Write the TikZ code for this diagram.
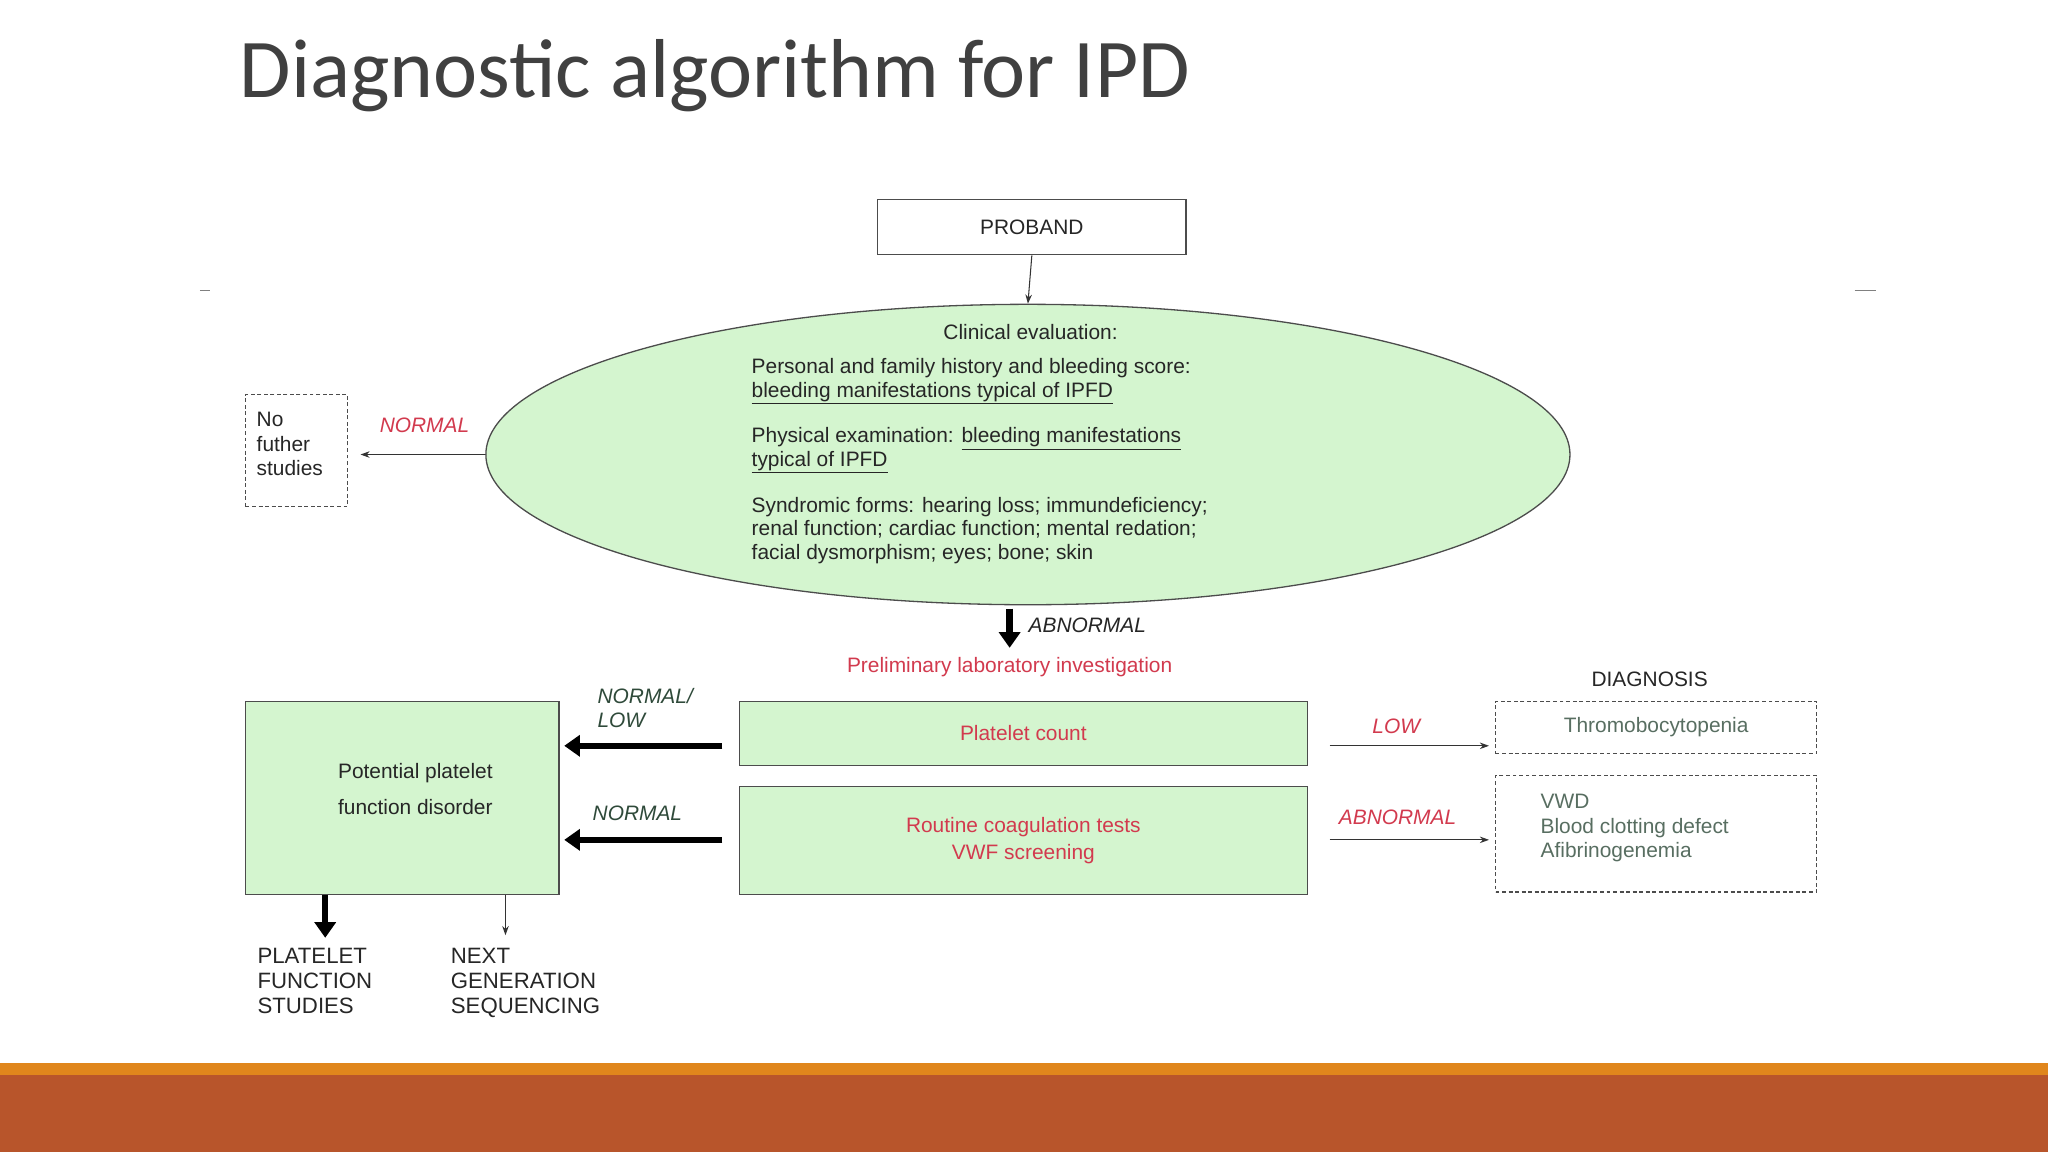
\documentclass[tikz,border=0pt]{standalone}
\usepackage{fontspec}
\setmainfont{Liberation Sans}
\newfontfamily\titlefont{Carlito}
\usetikzlibrary{arrows.meta,calc,shapes.geometric}
\definecolor{lgreen}{HTML}{D4F5CF}
\definecolor{lred}{HTML}{D23A4E}
\definecolor{dgr}{HTML}{2F4A3A}
\definecolor{orangebar}{HTML}{E0861C}
\definecolor{rustbar}{HTML}{B8552B}
\definecolor{titlegray}{HTML}{404040}
\tikzset{
  every node/.style={font=\fontsize{16}{19}\selectfont, text=black!85},
  gbox/.style={draw=black!70, line width=1pt, fill=lgreen},
  dbox/.style={draw=black!70, line width=1pt, dash pattern=on 3pt off 2pt},
  thin arrow/.style={-{Stealth[length=7pt,width=5pt]}, line width=0.8pt, draw=black!80},
  thick arrow/.style={-{Triangle[length=12pt,width=16pt]}, line width=5pt},
  lab/.style={font=\fontsize{16}{19}\selectfont\itshape},
}
\begin{document}
\begin{tikzpicture}[x=1pt,y=-1pt]
\useasboundingbox (0,0) rectangle (1568,882);
\fill[white] (0,0) rectangle (1568,882);
\fill[orangebar] (0,814) rectangle (1568,823);
\fill[rustbar] (0,823) rectangle (1568,882);
\node[anchor=west, font=\titlefont\fontsize{64}{70}\selectfont, text=titlegray] (title) at (180,58) {Diagnostic algorithm for IPD};
\draw[black!50] (153,222) -- (161,222);
\draw[black!50] (1420,222) -- (1436,222);

\node[draw=black!70, line width=1pt, minimum width=236pt, minimum height=42pt] (proband) at (790,174) {PROBAND};
\node[gbox, ellipse, minimum width=830pt, minimum height=230pt, inner sep=0pt] (eval) at (787,348) {};
\node (ce) at (789,254) {Clinical evaluation:};
\node[anchor=west, align=left, font=\fontsize{16}{18}\selectfont] (t1) at (572,292) {Personal and family history and bleeding score:\\\underline{bleeding manifestations typical of IPFD}};
\node[anchor=west, align=left, font=\fontsize{16}{18}\selectfont] (t2) at (572,345) {Physical examination: \underline{bleeding manifestations}\\\underline{typical of IPFD}};
\node[anchor=west, align=left, font=\fontsize{16}{18}\selectfont] (t3) at (572,406) {Syndromic forms: hearing loss; immundeficiency;\\renal function; cardiac function; mental redation;\\facial dysmorphism; eyes; bone; skin};
\draw[thin arrow] (proband.south) -- (eval.north);

\node[dbox, minimum width=78pt, minimum height=86pt] (nofurther) at (227,345) {};
\node[anchor=west, align=left, font=\fontsize{16}{19}\selectfont] (nft) at (193,340) {No\\futher\\studies};
\coordinate (nfend) at (276,348);
\draw[thin arrow] (eval.west) -- (nfend);
\node[lab, text=lred] (normal1) at (325,326) {NORMAL};

\coordinate (abtop) at (773,466);
\coordinate (abbot) at (773,496);
\draw[thick arrow] (abtop) -- (abbot);
\node[lab, anchor=west] (abn) at (784,479) {ABNORMAL};
\node[text=lred] (prelim) at (773,511) {Preliminary laboratory investigation};

\node[gbox, minimum width=435pt, minimum height=49pt] (pc) at (783.5,561.5) {};
\node[text=lred] at (pc) {Platelet count};
\node[gbox, minimum width=435pt, minimum height=83pt] (rc) at (783.5,643.5) {};
\node[text=lred, align=center, font=\fontsize{16}{21}\selectfont] at (rc) {Routine coagulation tests\\VWF screening};
\node[gbox, minimum width=240pt, minimum height=148pt] (ppfd) at (308,611) {};
\node[align=center, font=\fontsize{16}{28}\selectfont] at (318,604) {Potential platelet\\function disorder};

\coordinate (a1s) at (553,571); \coordinate (a1e) at (432,571);
\coordinate (a2s) at (553,643); \coordinate (a2e) at (432,643);
\draw[thick arrow] (a1s) -- (a1e);
\draw[thick arrow] (a2s) -- (a2e);
\node[lab, text=dgr, anchor=west, align=left, font=\fontsize{16}{18}\selectfont\itshape] at (454,542) {NORMAL/\\LOW};
\node[lab, text=dgr] at (488,623) {NORMAL};

\node (diag) at (1263,520) {DIAGNOSIS};
\node[dbox, minimum width=246pt, minimum height=40pt] (thr) at (1268,557) {};
\node[text=dgr!80] at (thr) {Thromobocytopenia};
\node[dbox, minimum width=246pt, minimum height=89pt] (vwd) at (1268,638.5) {};
\node[anchor=west, align=left, text=dgr!80, font=\fontsize{16}{19}\selectfont] at (1176,634) {VWD\\Blood clotting defect\\Afibrinogenemia};
\coordinate (b1s) at (1018,571); \coordinate (b1e) at (1140,571);
\coordinate (b2s) at (1018,643); \coordinate (b2e) at (1140,643);
\draw[thin arrow] (b1s) -- (b1e);
\draw[thin arrow] (b2s) -- (b2e);
\node[lab, text=lred] at (1069,556) {LOW};
\node[lab, text=lred] at (1070,626) {ABNORMAL};

\coordinate (p1s) at (249,685); \coordinate (pfs) at (249,718);
\coordinate (p2s) at (387,685); \coordinate (ngs) at (387,716);
\draw[thick arrow] (p1s) -- (pfs);
\draw[thin arrow] (p2s) -- (ngs);
\node[anchor=north west, align=left, font=\fontsize{17}{19}\selectfont, inner sep=0pt] at (197,726) {PLATELET\\FUNCTION\\STUDIES};
\node[anchor=north west, align=left, font=\fontsize{17}{19}\selectfont, inner sep=0pt] at (345,726) {NEXT\\GENERATION\\SEQUENCING};
\end{tikzpicture}
\end{document}
